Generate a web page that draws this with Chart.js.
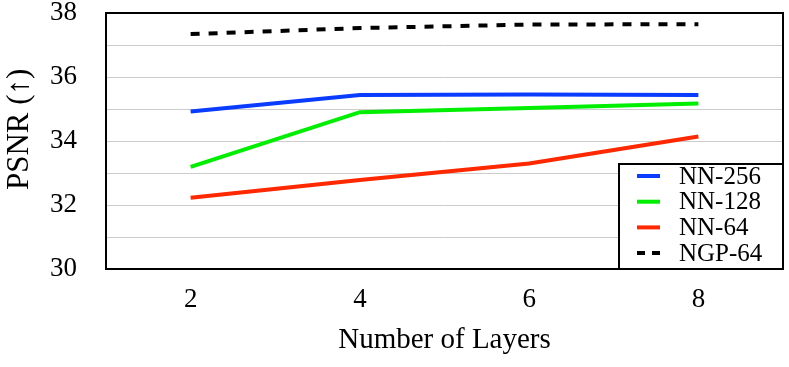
<!DOCTYPE html>
<html>
<head>
<meta charset="utf-8">
<script src="https://cdn.jsdelivr.net/npm/chart.js@4"></script>
<style>
  body { margin: 0; background: #fff; }
  canvas { display: block; }
</style>
</head>
<body>
<canvas id="psnrChart" width="789" height="367"></canvas>
<script>
const layers = [2, 4, 6, 8]
const nn256 = [34.92, 35.44, 35.45, 35.44]
const nn128 = [33.19, 34.90, 35.03, 35.17]
const nn64 = [32.23, 32.78, 33.30, 34.14]
const ngp64 = [37.34, 37.53, 37.64, 37.65]
const seriesNames = ['NN-256', 'NN-128', 'NN-64', 'NGP-64']
const yTicks = [30, 32, 34, 36, 38]

const font = 'Liberation Serif'

function pts(vals) {
    return vals.map((v, i) => ({x: layers[i], y: v}))
}

// plot box + legend drawn inside the chart area (bottom right)
const boxPlugin = {
    id: 'boxLegend',
    afterDraw(chart) {
        const ctx = chart.ctx
        const a = chart.chartArea
        ctx.save()
        ctx.strokeStyle = '#000'
        ctx.lineWidth = 2
        ctx.strokeRect(a.left, a.top, a.right - a.left, a.bottom - a.top)

        const w = 164, h = 105
        const lx = a.right - w, ly = a.bottom - h
        ctx.fillStyle = '#fff'
        ctx.fillRect(lx, ly, w, h)
        ctx.strokeRect(lx, ly, w, h)

        ctx.font = '25px "' + font + '"'
        ctx.textBaseline = 'middle'
        chart.data.datasets.forEach((ds, i) => {
            const y = ly + 12 + i * 25.7
            ctx.beginPath()
            ctx.strokeStyle = ds.borderColor
            ctx.lineWidth = 4
            ctx.setLineDash(ds.borderDash ? [8, 7] : [])
            ctx.moveTo(lx + 18, y)
            ctx.lineTo(lx + 41, y)
            ctx.stroke()
            ctx.setLineDash([])
            ctx.fillStyle = '#000'
            ctx.fillText(ds.label, lx + 60, y + 1)
        })
        ctx.restore()
    }
}

const ctx = document.getElementById('psnrChart').getContext('2d')
new Chart(ctx, {
    type: 'line',
    data: {
        datasets: [
            {label: seriesNames[0], data: pts(nn256), borderColor: 'rgb(10,60,255)'},
            {label: seriesNames[1], data: pts(nn128), borderColor: 'rgb(0,238,0)'},
            {label: seriesNames[2], data: pts(nn64), borderColor: 'rgb(255,40,0)'},
            {label: seriesNames[3], data: pts(ngp64), borderColor: '#000', borderDash: [9, 9]}
        ].map(d => Object.assign({borderWidth: 4, pointRadius: 0, tension: 0, fill: false}, d))
    },
    options: {
        responsive: false,
        animation: false,
        layout: {padding: 0},
        plugins: {legend: {display: false}, tooltip: {enabled: false}},
        scales: {
            x: {
                type: 'linear',
                min: 1,
                max: 9,
                grid: {display: false, drawTicks: false},
                border: {display: false},
                ticks: {
                    stepSize: 1,
                    autoSkip: false,
                    maxRotation: 0,
                    padding: 17,
                    color: '#000',
                    font: {family: font, size: 27, lineHeight: 1},
                    callback: v => layers.includes(v) ? v : ''
                },
                title: {
                    display: true,
                    text: 'Number of Layers',
                    color: '#000',
                    font: {family: font, size: 29},
                    padding: {top: 10, bottom: 9}
                },
                afterFit: s => {
                    s.height = 98
                    s.paddingLeft = 0
                    s.paddingRight = 6
                }
            },
            y: {
                min: 30,
                max: 38,
                grid: {color: '#cccccc', lineWidth: 1, drawTicks: false},
                border: {display: false},
                ticks: {
                    stepSize: 1,
                    autoSkip: false,
                    padding: 29,
                    color: '#000',
                    font: {family: font, size: 27, lineHeight: 1},
                    callback: v => yTicks.includes(v) ? v : ''
                },
                title: {
                    display: true,
                    text: '   PSNR (↑)',
                    color: '#000',
                    font: {family: font, size: 31},
                    padding: {top: 1, bottom: 6}
                },
                afterFit: s => {
                    s.width = 106
                    s.paddingTop = 13
                    s.paddingBottom = 0
                }
            }
        }
    },
    plugins: [boxPlugin]
})
</script>
</body>
</html>
